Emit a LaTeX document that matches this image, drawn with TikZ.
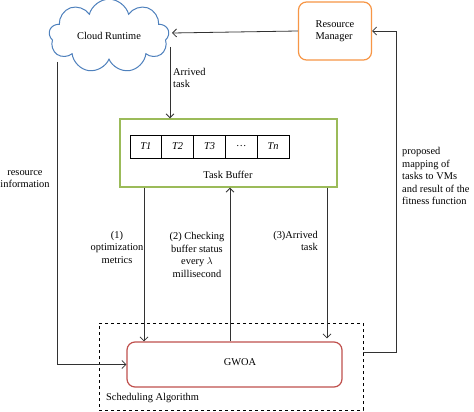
\documentclass[tikz,border=0pt]{standalone}
\usepackage{fontspec}
\setmainfont{Liberation Serif}
\usetikzlibrary{shapes.symbols,arrows.meta,shadows}
\definecolor{cloudblue}{RGB}{79,129,189}
\definecolor{rmorange}{RGB}{247,150,70}
\definecolor{bufgreen}{RGB}{155,187,89}
\definecolor{gwred}{RGB}{192,80,77}
\definecolor{linegray}{RGB}{50,50,50}
\tikzset{
  txt/.style={font=\fontsize{10.4}{12.5}\selectfont, inner sep=0pt},
  conn/.style={draw=linegray, line width=0.8pt, -{Straight Barb[length=4pt,width=8pt]}},
  plain/.style={draw=linegray, line width=0.8pt},
  cell/.style={draw=black, line width=0.7pt, minimum width=31.8pt, minimum height=23pt, inner sep=0pt, font=\fontsize{10.4}{12.5}\selectfont},
}
\begin{document}
\begin{tikzpicture}[x=1pt,y=-1pt]
\useasboundingbox[fill=white] (0,0) rectangle (474,412);
% nodes
\node[cloud, draw=cloudblue, line width=1pt, cloud puffs=9, aspect=1.7,
      minimum width=120pt, minimum height=72pt, inner sep=0pt, txt] (cloud) at (109,36) {Cloud Runtime};
\node[draw=rmorange, line width=1.2pt, rounded corners=8pt, minimum width=73pt, minimum height=58pt,
      txt, align=left] (rm) at (335,31) {Resource\\Manager};
\node[draw=bufgreen, line width=1.3pt, minimum width=217pt, minimum height=68pt,
      drop shadow={shadow xshift=1pt, shadow yshift=-1pt, opacity=0.25}, fill=white] (buffer) at (228.5,153) {};
\node[txt] (tblabel) at (228,175) {Task Buffer};
\node[cell] (t1) at (145.9,146.5) {\textit{T1}};
\node[cell] (t2) at (177.7,146.5) {\textit{T2}};
\node[cell] (t3) at (209.5,146.5) {\textit{T3}};
\node[cell] (t4) at (241.3,146.5) {\dots};
\node[cell] (tn) at (273.1,146.5) {\textit{Tn}};
\node[draw=black, dashed, line width=0.9pt, minimum width=264pt, minimum height=87pt] (sched) at (231,366.5) {};
\node[draw=gwred, line width=1.2pt, rounded corners=8pt, minimum width=215pt, minimum height=45pt, fill=white] (gwoa) at (234.5,364.5) {};
\node[txt] (gwoatext) at (240,362) {GWOA};
\node[txt, anchor=west] (schedlabel) at (106,398) {Scheduling Algorithm};
% labels
\node[txt, align=left, anchor=west] (arrlabel) at (173,78) {Arrived\\task};
\node[txt, align=center] (rilabel) at (25,179) {resource\\information};
\node[txt, align=center] (l1) at (117,247) {(1)\\optimization\\metrics};
\node[txt, align=center] (l2) at (197,255) {(2) Checking\\buffer status\\every $\lambda$\\millisecond};
\node[txt, align=right, anchor=east] (l3) at (318,241) {(3)Arrived\\task};
\node[txt, align=left, anchor=west] (l4) at (402,176) {proposed\\mapping of\\tasks to VMs\\and result of the\\fitness function};
% coordinates
\coordinate (cr) at (172,33);
\coordinate (ca) at (170,47);
\coordinate (ri) at (57,62);
\coordinate (x1) at (144,0);
\coordinate (x2) at (230,0);
\coordinate (x3) at (327,0);
\coordinate (r1) at (363,352);
\coordinate (r2) at (396,31);
% connectors
\draw[conn] (rm.west) -- (cr);
\draw[conn] (ca) -- (ca |- buffer.north);
\draw[conn] (ri) |- (gwoa.west);
\draw[conn] (buffer.south -| x1) -- (gwoa.north -| x1);
\draw[conn] (gwoa.north -| x2) -- (buffer.south -| x2);
\draw[conn, shorten >=3pt] (buffer.south -| x3) -- (gwoa.north -| x3);
\draw[conn] (r1) -| (r2) -- (rm.east);
\end{tikzpicture}
\end{document}
